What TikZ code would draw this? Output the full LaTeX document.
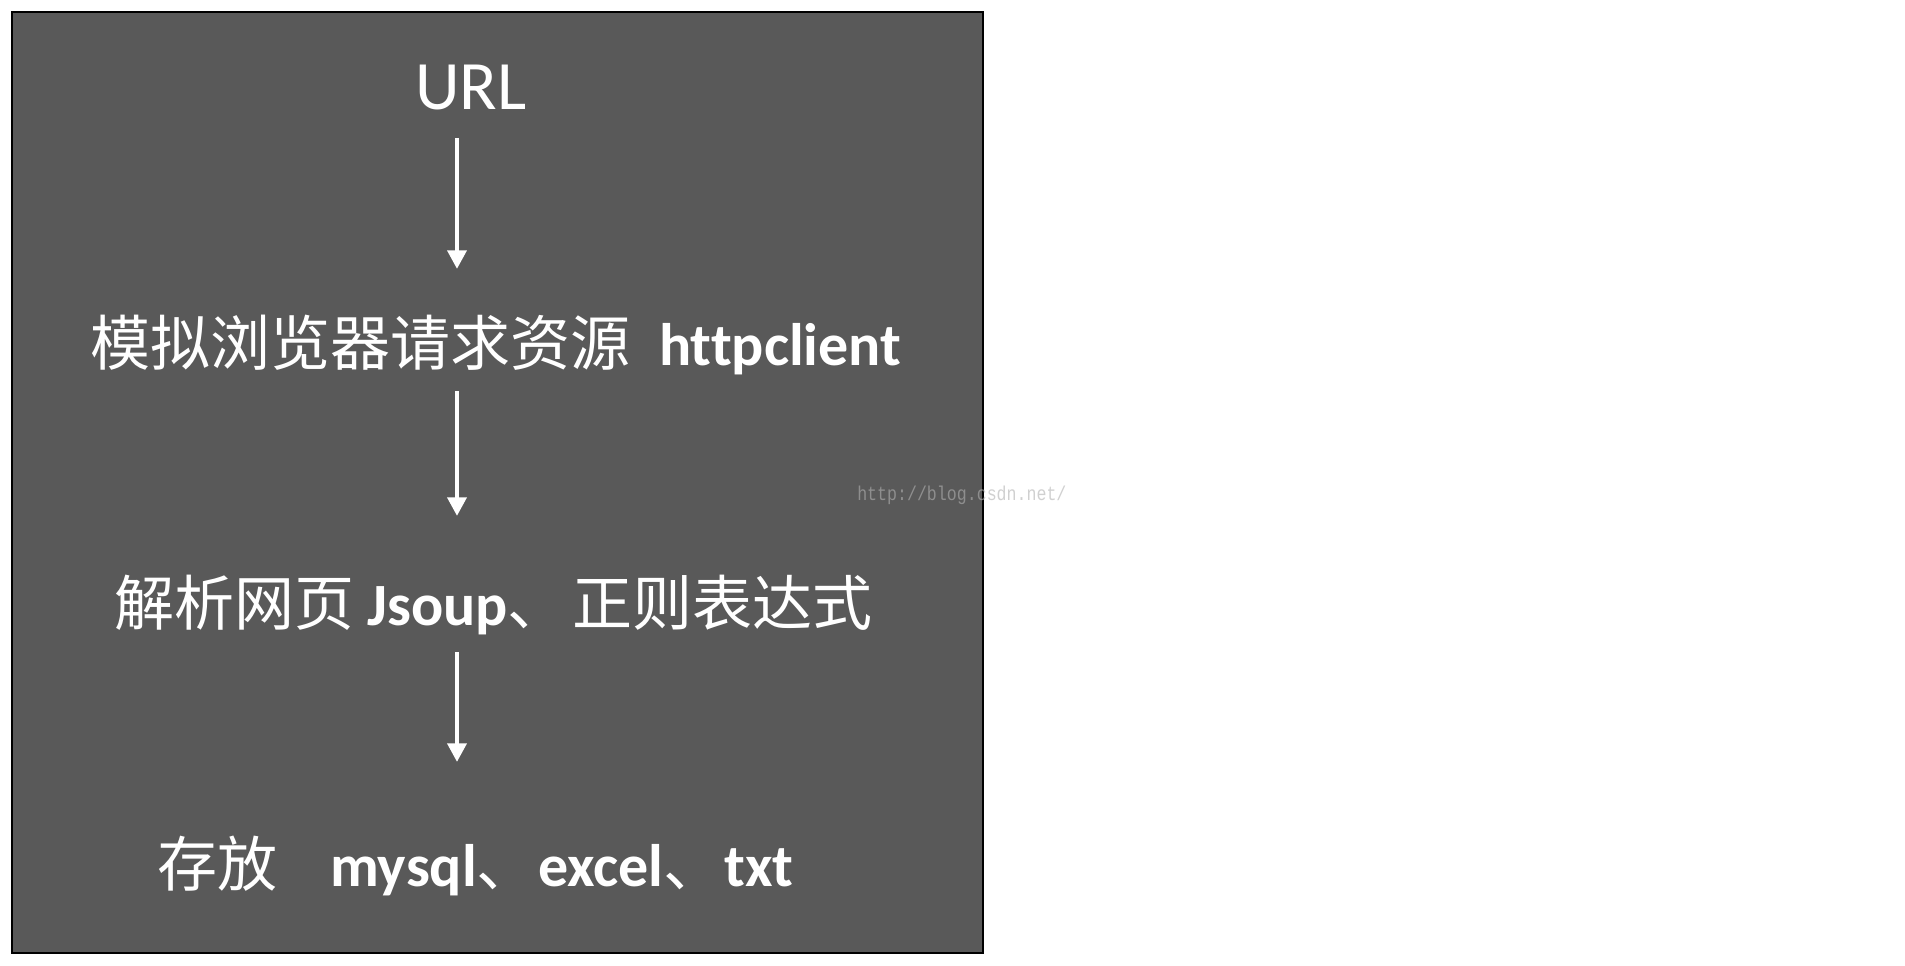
\documentclass[tikz,border=0pt]{standalone}
\usepackage{fontspec}
\setmainfont{Carlito}[Ligatures=NoCommon]
\newfontfamily\cjk{Noto Sans CJK SC}
\newfontfamily\wmfont{Liberation Mono}
\usetikzlibrary{arrows.meta}
\definecolor{panel}{HTML}{595959}
\definecolor{wm}{HTML}{B2B2B2}
\begin{document}
\begin{tikzpicture}[x=0.75pt,y=-0.75pt,
  zh/.style={anchor=base west, inner sep=0pt, text=white, font=\cjk\fontsize{45}{54}\selectfont},
  en/.style={anchor=base west, inner sep=0pt, text=white, font=\bfseries\fontsize{45}{54}\selectfont},
  flow/.style={draw=white, line width=3.4pt, -{Triangle[width=14pt,length=14pt]}}]
\useasboundingbox[fill=white] (0,0) rectangle (1905,966);
\draw[fill=panel, draw=black, line width=1.2pt] (12,12) rectangle (983,953);
% line 1
\node[anchor=base west, inner sep=0pt, text=white, font=\fontsize{52}{62}\selectfont] (url) at (415,110) {URL};
% line 2
\node[zh] (req) at (90,365) {模拟浏览器请求资源};
\node[en] (http) at (659,365) {httpclient};
% line 3
\node[zh] (parse) at (114,625) {解析网页};
\node[en] (jsoup) at (367,625) {Jsoup{\mdseries\cjk 、}};
\node[zh] (regex) at (572,625) {正则表达式};
% line 4
\node[zh] (store) at (157,886) {存放};
\node[en] (mysql) at (330,886) {mysql{\mdseries\cjk 、}};
\node[en] (excel) at (538,886) {excel{\mdseries\cjk 、}};
\node[en] (txt) at (724,886) {txt};
% arrows
\coordinate (a1s) at (457,138);
\coordinate (a1e) at (457,269);
\coordinate (a2s) at (457,391);
\coordinate (a2e) at (457,516);
\coordinate (a3s) at (457,652);
\coordinate (a3e) at (457,762);
\draw[flow] (a1s) -- (a1e);
\draw[flow] (a2s) -- (a2e);
\draw[flow] (a3s) -- (a3e);
% watermark
\node[anchor=base west, inner sep=0pt, text=wm, text opacity=0.6, font=\wmfont\fontsize{15}{18}\selectfont] (mark) at (857,500) {\scalebox{0.83}[1]{http://blog.csdn.net/}};
\end{tikzpicture}
\end{document}
